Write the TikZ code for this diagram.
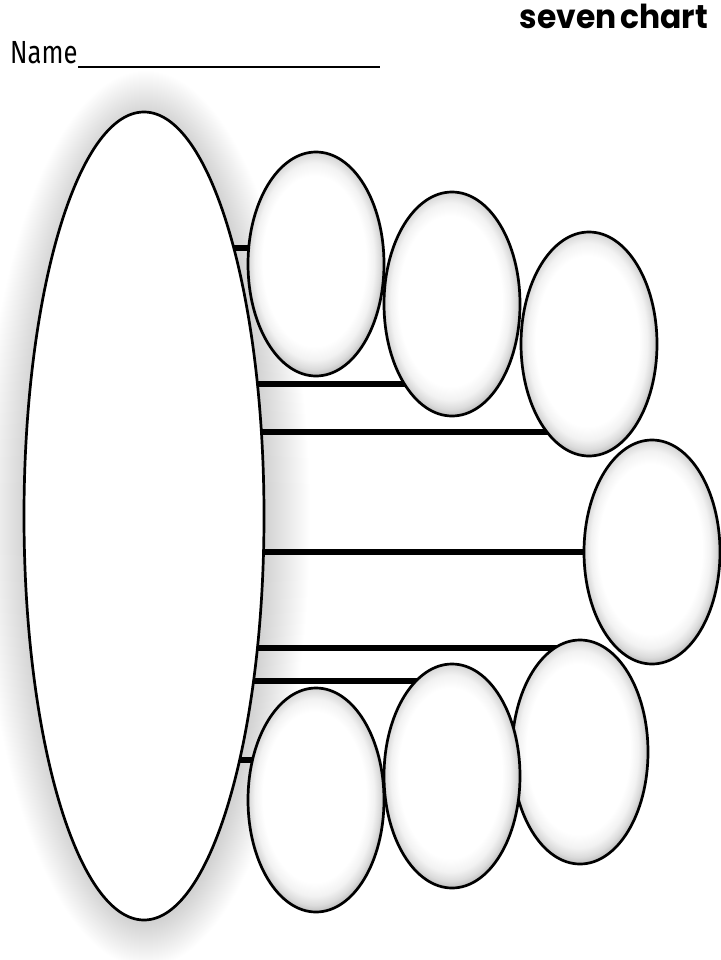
\documentclass[tikz,border=0pt]{standalone}
\usepackage{fontspec}
\usepackage{graphicx}
\usetikzlibrary{shapes.geometric}
\newfontfamily\titlefont{Poppins}
\newfontfamily\namefont{Fira Sans}
\pgfdeclareradialshading{eggshade}{\pgfpoint{-1bp}{1bp}}{%
  color(0bp)=(white); color(19bp)=(white); color(22bp)=(black!5);
  color(24bp)=(black!14); color(26bp)=(black!30); color(50bp)=(black!30)}
\begin{document}
\begin{tikzpicture}[x=1pt,y=-1pt,
  egg/.style={ellipse, draw=black, line width=2.7pt, shading=eggshade,
    minimum width=136pt, minimum height=224pt, inner sep=0pt},
  bigegg/.style={ellipse, draw=black, line width=2.7pt, fill=white,
    minimum width=240pt, minimum height=808pt, inner sep=0pt},
  conn/.style={line width=5.5pt, black},
  nameline/.style={line width=1.3pt, black}]
\useasboundingbox (0,0) rectangle (720,960);
\fill[white] (0,0) rectangle (720,960);
% soft shadow of the big ellipse
\foreach \i in {1,...,45}{
  \fill[black, opacity=0.0042] (146,519) ellipse [x radius={(119+\i)*1pt}, y radius={(403+\i)*1pt}];
}
% line levels
\coordinate (l1) at (0,248);
\coordinate (l2) at (0,384);
\coordinate (l3) at (0,432);
\coordinate (l4) at (0,552);
\coordinate (l5) at (0,648);
\coordinate (l6) at (0,681);
\coordinate (l7) at (0,760);
% node positions
\coordinate (pbig) at (144,516);
\coordinate (p1) at (316,264);
\coordinate (p2) at (452,304);
\coordinate (p3) at (589,344);
\coordinate (p4) at (652,552);
\coordinate (p5) at (580,752);
\coordinate (p6) at (452,776);
\coordinate (p7) at (316,800);
% connectors
\draw[conn] (pbig |- l1) -- (p1 |- l1);
\draw[conn] (pbig |- l2) -- (p2 |- l2);
\draw[conn] (pbig |- l3) -- (p3 |- l3);
\draw[conn] (pbig |- l4) -- (p4 |- l4);
\draw[conn] (pbig |- l5) -- (p5 |- l5);
\draw[conn] (pbig |- l6) -- (p6 |- l6);
\draw[conn] (pbig |- l7) -- (p7 |- l7);
% ellipses
\node[bigegg] (big) at (pbig) {};
\node[egg] (e1) at (p1) {};
\node[egg] (e2) at (p2) {};
\node[egg] (e3) at (p3) {};
\node[egg] (e4) at (p4) {};
\node[egg] (e5) at (p5) {};
\node[egg] (e6) at (p6) {};
\node[egg] (e7) at (p7) {};
% texts
\node[anchor=base east, inner sep=0pt] (title) at (708,29)
  {\titlefont\bfseries\fontsize{33}{36}\selectfont\scalebox{0.95}[1]{seven\hspace{4pt}chart}};
\node[anchor=base west, inner sep=0pt] (name) at (10,64)
  {\namefont\fontsize{32}{35}\selectfont\scalebox{0.8}[1]{Name}};
\coordinate (ul1) at (78,67);
\coordinate (ul2) at (380,67);
\draw[nameline] (ul1) -- (ul2);
\end{tikzpicture}
\end{document}
